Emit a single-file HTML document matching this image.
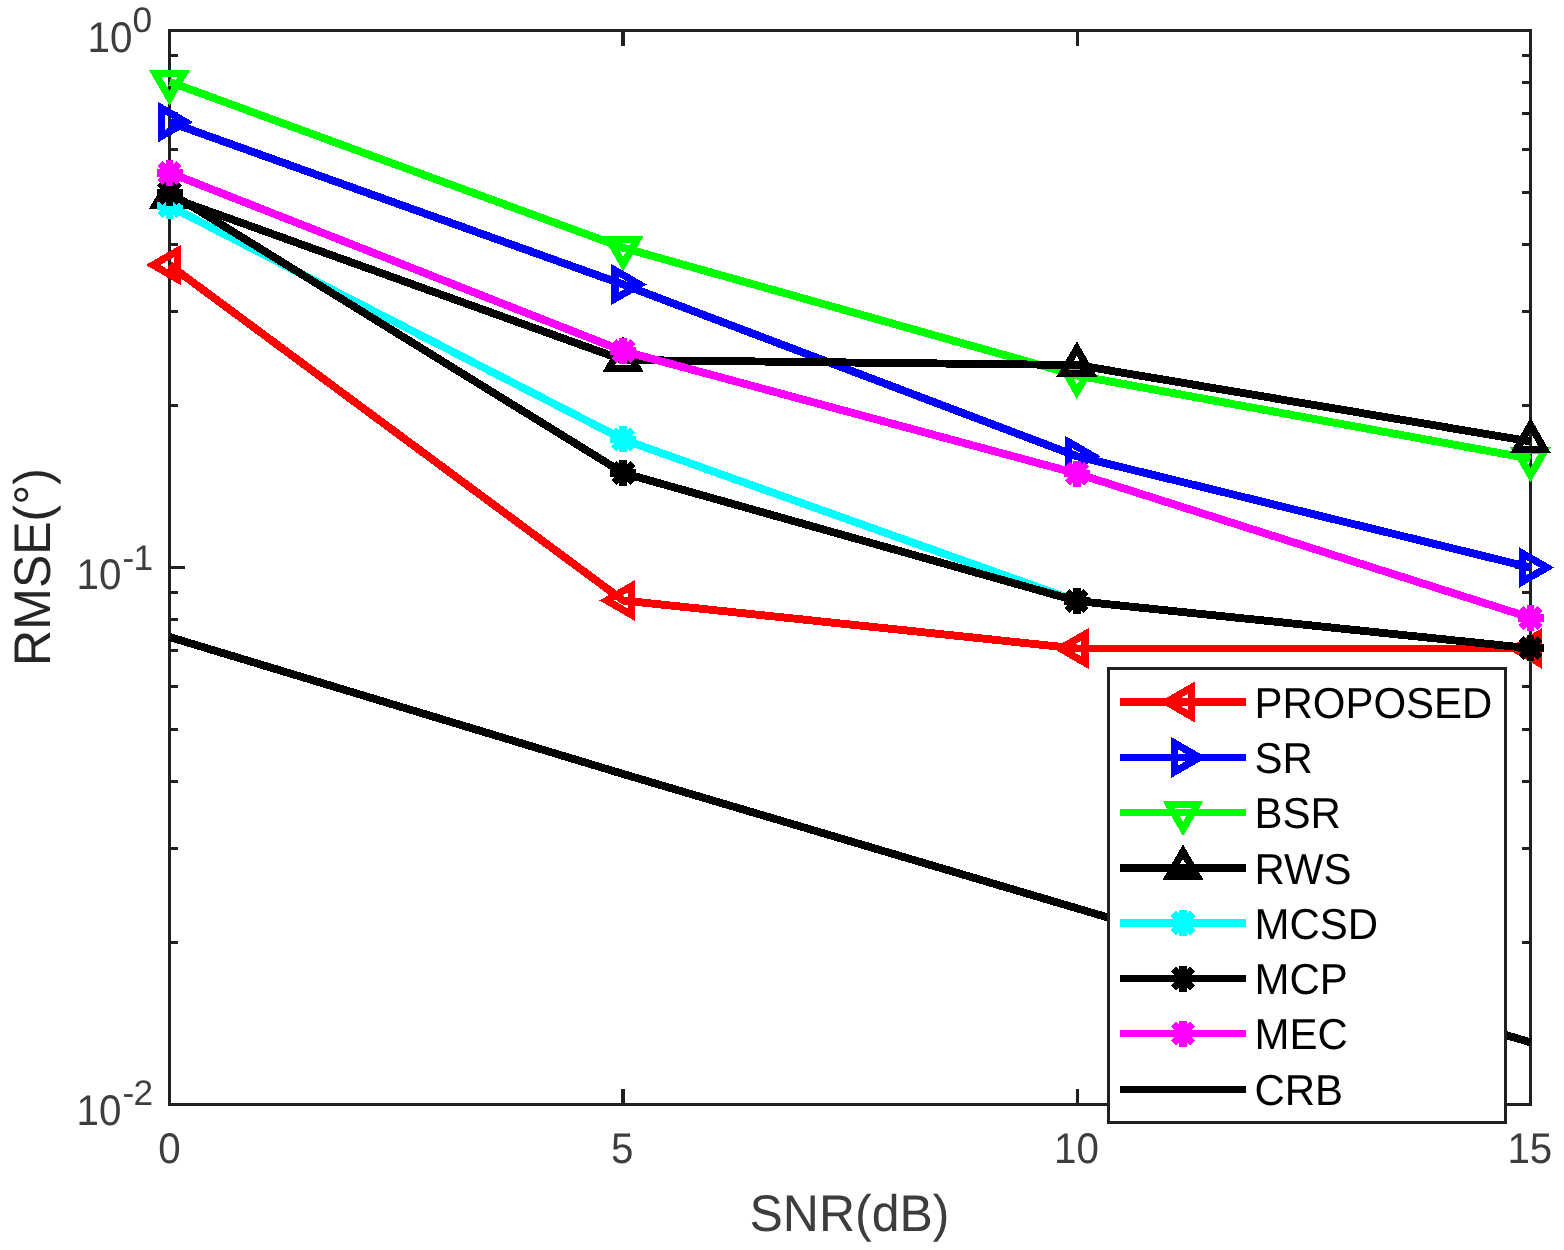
<!DOCTYPE html>
<html lang="en"><head><meta charset="utf-8"><title>RMSE versus SNR</title>
<style>html,body{margin:0;padding:0;background:#fff}body{width:1564px;height:1250px;overflow:hidden}svg{display:block}text{font-family:"Liberation Sans",Arial,Helvetica,sans-serif;text-rendering:geometricPrecision}</style></head><body>
<svg width="1564" height="1250" viewBox="0 0 1564 1250">
<rect width="1564" height="1250" fill="#fff"/>
<defs><clipPath id="ax"><rect x="168" y="29" width="1364" height="1077"/></clipPath></defs>
<g stroke="#202020" stroke-width="3" fill="none" shape-rendering="crispEdges"><rect x="169.5" y="30.5" width="1361" height="1074"/><path stroke-width="4" d="M623 1104.5v-15.5M623 30.5v15.5"/><path d="M1077.13 1104.5v-15.5M1077.13 30.5v15.5M169.5 405.85h8.5M1530.5 405.85h-8.5M169.5 311.29h8.5M1530.5 311.29h-8.5M169.5 244.19h8.5M1530.5 244.19h-8.5M169.5 192.15h8.5M1530.5 192.15h-8.5M169.5 149.63h8.5M1530.5 149.63h-8.5M169.5 113.68h8.5M1530.5 113.68h-8.5M169.5 82.54h8.5M1530.5 82.54h-8.5M169.5 55.07h8.5M1530.5 55.07h-8.5M169.5 567.5h15.5M1530.5 567.5h-15.5M169.5 942.85h8.5M1530.5 942.85h-8.5M169.5 848.29h8.5M1530.5 848.29h-8.5M169.5 781.19h8.5M1530.5 781.19h-8.5M169.5 729.15h8.5M1530.5 729.15h-8.5M169.5 686.63h8.5M1530.5 686.63h-8.5M169.5 650.68h8.5M1530.5 650.68h-8.5M169.5 619.54h8.5M1530.5 619.54h-8.5M169.5 592.07h8.5M1530.5 592.07h-8.5"/></g>
<g fill="#3d3d3d" font-size="41.6px">
<text transform="translate(169.55 1163.2) scale(0.97 1.03)" text-anchor="middle">0</text>
<text transform="translate(622.32 1163.2) scale(0.97 1.03)" text-anchor="middle">5</text>
<text transform="translate(1076.53 1163.2) scale(0.97 1.03)" text-anchor="middle">10</text>
<text transform="translate(1529.85 1163.2) scale(0.97 1.03)" text-anchor="middle">15</text>
<text transform="translate(132.5 51.5) scale(0.97 1.03)" text-anchor="end">10</text>
<text transform="translate(132.5 31.9) scale(1.02 1.03)" font-size="34.6px">0</text>
<text transform="translate(121.5 589.2) scale(0.97 1.03)" text-anchor="end">10</text>
<text transform="translate(122.5 569.6) scale(1.02 1.03)" font-size="34.6px">-<tspan dx="-0.6">1</tspan></text>
<text transform="translate(121.5 1125) scale(0.97 1.03)" text-anchor="end">10</text>
<text transform="translate(122.5 1105.4) scale(1.02 1.03)" font-size="34.6px">-<tspan dx="-0.6">2</tspan></text>
</g>
<text transform="translate(849.5 1230.7) scale(1 1.03)" text-anchor="middle" font-size="50px" fill="#3d3d3d">SNR(dB)</text>
<text transform="translate(50.4 567) rotate(-90) scale(1 1.03)" text-anchor="middle" font-size="50px" fill="#262626">RMSE(°)</text>
<polyline points="169.5,265 623.17,600.5 1076.83,648.5 1530.5,648.5" fill="none" stroke="#ff0000" stroke-width="7.9" stroke-linejoin="round" clip-path="url(#ax)" shape-rendering="crispEdges"/>
<g shape-rendering="crispEdges"><polygon points="153.1,265 177.7,250.8 177.7,279.2" fill="none" stroke="#ff0000" stroke-width="7.3" stroke-linejoin="miter" stroke-miterlimit="10"/><polygon points="606.77,600.5 631.37,586.3 631.37,614.7" fill="none" stroke="#ff0000" stroke-width="7.3" stroke-linejoin="miter" stroke-miterlimit="10"/><polygon points="1060.43,648.5 1085.03,634.3 1085.03,662.7" fill="none" stroke="#ff0000" stroke-width="7.3" stroke-linejoin="miter" stroke-miterlimit="10"/><polygon points="1514.1,648.5 1538.7,634.3 1538.7,662.7" fill="none" stroke="#ff0000" stroke-width="7.3" stroke-linejoin="miter" stroke-miterlimit="10"/></g>
<polyline points="169.5,122.1 623.17,284.5 1076.83,456.2 1530.5,567.5" fill="none" stroke="#0000ff" stroke-width="7.9" stroke-linejoin="round" clip-path="url(#ax)" shape-rendering="crispEdges"/>
<g shape-rendering="crispEdges"><polygon points="185.9,122.1 161.3,136.3 161.3,107.9" fill="none" stroke="#0000ff" stroke-width="7.3" stroke-linejoin="miter" stroke-miterlimit="10"/><polygon points="639.57,284.5 614.97,298.7 614.97,270.3" fill="none" stroke="#0000ff" stroke-width="7.3" stroke-linejoin="miter" stroke-miterlimit="10"/><polygon points="1093.23,456.2 1068.63,470.4 1068.63,442" fill="none" stroke="#0000ff" stroke-width="7.3" stroke-linejoin="miter" stroke-miterlimit="10"/><polygon points="1546.9,567.5 1522.3,581.7 1522.3,553.3" fill="none" stroke="#0000ff" stroke-width="7.3" stroke-linejoin="miter" stroke-miterlimit="10"/></g>
<polyline points="169.5,81.8 623.17,247.7 1076.83,375.4 1530.5,458.7" fill="none" stroke="#00ff00" stroke-width="7.9" stroke-linejoin="round" clip-path="url(#ax)" shape-rendering="crispEdges"/>
<g shape-rendering="crispEdges"><polygon points="169.5,98.2 155.3,73.6 183.7,73.6" fill="none" stroke="#00ff00" stroke-width="7.3" stroke-linejoin="miter" stroke-miterlimit="10"/><polygon points="623.17,264.1 608.96,239.5 637.37,239.5" fill="none" stroke="#00ff00" stroke-width="7.3" stroke-linejoin="miter" stroke-miterlimit="10"/><polygon points="1076.83,391.8 1062.63,367.2 1091.04,367.2" fill="none" stroke="#00ff00" stroke-width="7.3" stroke-linejoin="miter" stroke-miterlimit="10"/><polygon points="1530.5,475.1 1516.3,450.5 1544.7,450.5" fill="none" stroke="#00ff00" stroke-width="7.3" stroke-linejoin="miter" stroke-miterlimit="10"/></g>
<polyline points="169.5,197 623.17,360 1076.83,365 1530.5,441.5" fill="none" stroke="#000000" stroke-width="7.9" stroke-linejoin="round" clip-path="url(#ax)" shape-rendering="crispEdges"/>
<g shape-rendering="crispEdges"><polygon points="169.5,180.6 183.7,205.2 155.3,205.2" fill="none" stroke="#000000" stroke-width="7.3" stroke-linejoin="miter" stroke-miterlimit="10"/><polygon points="623.17,343.6 637.37,368.2 608.96,368.2" fill="none" stroke="#000000" stroke-width="7.3" stroke-linejoin="miter" stroke-miterlimit="10"/><polygon points="1076.83,348.6 1091.04,373.2 1062.63,373.2" fill="none" stroke="#000000" stroke-width="7.3" stroke-linejoin="miter" stroke-miterlimit="10"/><polygon points="1530.5,425.1 1544.7,449.7 1516.3,449.7" fill="none" stroke="#000000" stroke-width="7.3" stroke-linejoin="miter" stroke-miterlimit="10"/></g>
<polyline points="169.5,206 623.17,439.4 1076.83,601 1530.5,648.3" fill="none" stroke="#00ffff" stroke-width="7.9" stroke-linejoin="round" clip-path="url(#ax)" shape-rendering="crispEdges"/>
<g shape-rendering="crispEdges"><path d="M156.5 206H182.5M169.5 193V219" fill="none" stroke="#00ffff" stroke-width="7.8"/><path d="M159.95 196.45L179.05 215.55M159.95 215.55L179.05 196.45" fill="none" stroke="#00ffff" stroke-width="7.1"/><path d="M610.17 439.4H636.17M623.17 426.4V452.4" fill="none" stroke="#00ffff" stroke-width="7.8"/><path d="M613.62 429.85L632.71 448.95M613.62 448.95L632.71 429.85" fill="none" stroke="#00ffff" stroke-width="7.1"/><path d="M1063.83 601H1089.83M1076.83 588V614" fill="none" stroke="#00ffff" stroke-width="7.8"/><path d="M1067.29 591.45L1086.38 610.55M1067.29 610.55L1086.38 591.45" fill="none" stroke="#00ffff" stroke-width="7.1"/><path d="M1517.5 648.3H1543.5M1530.5 635.3V661.3" fill="none" stroke="#00ffff" stroke-width="7.8"/><path d="M1520.95 638.75L1540.05 657.85M1520.95 657.85L1540.05 638.75" fill="none" stroke="#00ffff" stroke-width="7.1"/></g>
<polyline points="169.5,192.5 623.17,473 1076.83,601 1530.5,648.3" fill="none" stroke="#000000" stroke-width="7.9" stroke-linejoin="round" clip-path="url(#ax)" shape-rendering="crispEdges"/>
<g shape-rendering="crispEdges"><path d="M156.5 192.5H182.5M169.5 179.5V205.5" fill="none" stroke="#000000" stroke-width="7.8"/><path d="M159.95 182.95L179.05 202.05M159.95 202.05L179.05 182.95" fill="none" stroke="#000000" stroke-width="7.1"/><path d="M610.17 473H636.17M623.17 460V486" fill="none" stroke="#000000" stroke-width="7.8"/><path d="M613.62 463.45L632.71 482.55M613.62 482.55L632.71 463.45" fill="none" stroke="#000000" stroke-width="7.1"/><path d="M1063.83 601H1089.83M1076.83 588V614" fill="none" stroke="#000000" stroke-width="7.8"/><path d="M1067.29 591.45L1086.38 610.55M1067.29 610.55L1086.38 591.45" fill="none" stroke="#000000" stroke-width="7.1"/><path d="M1517.5 648.3H1543.5M1530.5 635.3V661.3" fill="none" stroke="#000000" stroke-width="7.8"/><path d="M1520.95 638.75L1540.05 657.85M1520.95 657.85L1540.05 638.75" fill="none" stroke="#000000" stroke-width="7.1"/></g>
<polyline points="169.5,172.7 623.17,351 1076.83,473.5 1530.5,617.7" fill="none" stroke="#ff00ff" stroke-width="7.9" stroke-linejoin="round" clip-path="url(#ax)" shape-rendering="crispEdges"/>
<g shape-rendering="crispEdges"><path d="M156.5 172.7H182.5M169.5 159.7V185.7" fill="none" stroke="#ff00ff" stroke-width="7.8"/><path d="M159.95 163.15L179.05 182.25M159.95 182.25L179.05 163.15" fill="none" stroke="#ff00ff" stroke-width="7.1"/><path d="M610.17 351H636.17M623.17 338V364" fill="none" stroke="#ff00ff" stroke-width="7.8"/><path d="M613.62 341.45L632.71 360.55M613.62 360.55L632.71 341.45" fill="none" stroke="#ff00ff" stroke-width="7.1"/><path d="M1063.83 473.5H1089.83M1076.83 460.5V486.5" fill="none" stroke="#ff00ff" stroke-width="7.8"/><path d="M1067.29 463.95L1086.38 483.05M1067.29 483.05L1086.38 463.95" fill="none" stroke="#ff00ff" stroke-width="7.1"/><path d="M1517.5 617.7H1543.5M1530.5 604.7V630.7" fill="none" stroke="#ff00ff" stroke-width="7.8"/><path d="M1520.95 608.15L1540.05 627.25M1520.95 627.25L1540.05 608.15" fill="none" stroke="#ff00ff" stroke-width="7.1"/></g>
<polyline points="169.5,637 623.17,774 1076.83,908.3 1530.5,1042.3" fill="none" stroke="#000000" stroke-width="7.9" stroke-linejoin="round" clip-path="url(#ax)" shape-rendering="crispEdges"/>
<rect x="1108.5" y="668.5" width="397" height="454" fill="#fff" stroke="#202020" stroke-width="3" shape-rendering="crispEdges"/>
<g font-size="42px" fill="#000">
<rect x="1120" y="698" width="126" height="8" fill="#ff0000" shape-rendering="crispEdges"/>
<g shape-rendering="crispEdges"><polygon points="1166.6,702 1191.2,687.8 1191.2,716.2" fill="none" stroke="#ff0000" stroke-width="7.3" stroke-linejoin="miter" stroke-miterlimit="10"/></g>
<text transform="translate(1254.4 717.6) scale(1 1.03)">PROPOSED</text>
<rect x="1120" y="754" width="126" height="7" fill="#0000ff" shape-rendering="crispEdges"/>
<g shape-rendering="crispEdges"><polygon points="1199.4,757.5 1174.8,771.7 1174.8,743.3" fill="none" stroke="#0000ff" stroke-width="7.3" stroke-linejoin="miter" stroke-miterlimit="10"/></g>
<text transform="translate(1254.4 773.1) scale(1 1.03)">SR</text>
<rect x="1120" y="809" width="126" height="7" fill="#00ff00" shape-rendering="crispEdges"/>
<g shape-rendering="crispEdges"><polygon points="1183,828.9 1168.8,804.3 1197.2,804.3" fill="none" stroke="#00ff00" stroke-width="7.3" stroke-linejoin="miter" stroke-miterlimit="10"/></g>
<text transform="translate(1254.4 828.1) scale(1 1.03)">BSR</text>
<rect x="1120" y="864" width="126" height="8" fill="#000000" shape-rendering="crispEdges"/>
<g shape-rendering="crispEdges"><polygon points="1183,851.6 1197.2,876.2 1168.8,876.2" fill="none" stroke="#000000" stroke-width="7.3" stroke-linejoin="miter" stroke-miterlimit="10"/></g>
<rect x="1169" y="871.5" width="28" height="2" fill="#000000" shape-rendering="crispEdges"/>
<text transform="translate(1254.4 883.6) scale(1 1.03)">RWS</text>
<rect x="1120" y="919" width="126" height="8" fill="#00ffff" shape-rendering="crispEdges"/>
<g shape-rendering="crispEdges"><path d="M1183 910V936" fill="none" stroke="#00ffff" stroke-width="7.8"/><path d="M1173.45 913.45L1192.55 932.55M1173.45 932.55L1192.55 913.45" fill="none" stroke="#00ffff" stroke-width="7.1"/></g>
<text transform="translate(1254.4 938.6) scale(1 1.03)">MCSD</text>
<rect x="1120" y="975" width="126" height="7" fill="#000000" shape-rendering="crispEdges"/>
<g shape-rendering="crispEdges"><path d="M1183 965.5V991.5" fill="none" stroke="#000000" stroke-width="7.8"/><path d="M1173.45 968.95L1192.55 988.05M1173.45 988.05L1192.55 968.95" fill="none" stroke="#000000" stroke-width="7.1"/></g>
<text transform="translate(1254.4 994.1) scale(1 1.03)">MCP</text>
<rect x="1120" y="1030" width="126" height="7" fill="#ff00ff" shape-rendering="crispEdges"/>
<g shape-rendering="crispEdges"><path d="M1183 1020.5V1046.5" fill="none" stroke="#ff00ff" stroke-width="7.8"/><path d="M1173.45 1023.95L1192.55 1043.05M1173.45 1043.05L1192.55 1023.95" fill="none" stroke="#ff00ff" stroke-width="7.1"/></g>
<text transform="translate(1254.4 1049.1) scale(1 1.03)">MEC</text>
<rect x="1120" y="1086" width="126" height="7" fill="#000000" shape-rendering="crispEdges"/>
<g shape-rendering="crispEdges"></g>
<text transform="translate(1254.4 1105.1) scale(1 1.03)">CRB</text>
</g>
</svg></body></html>
